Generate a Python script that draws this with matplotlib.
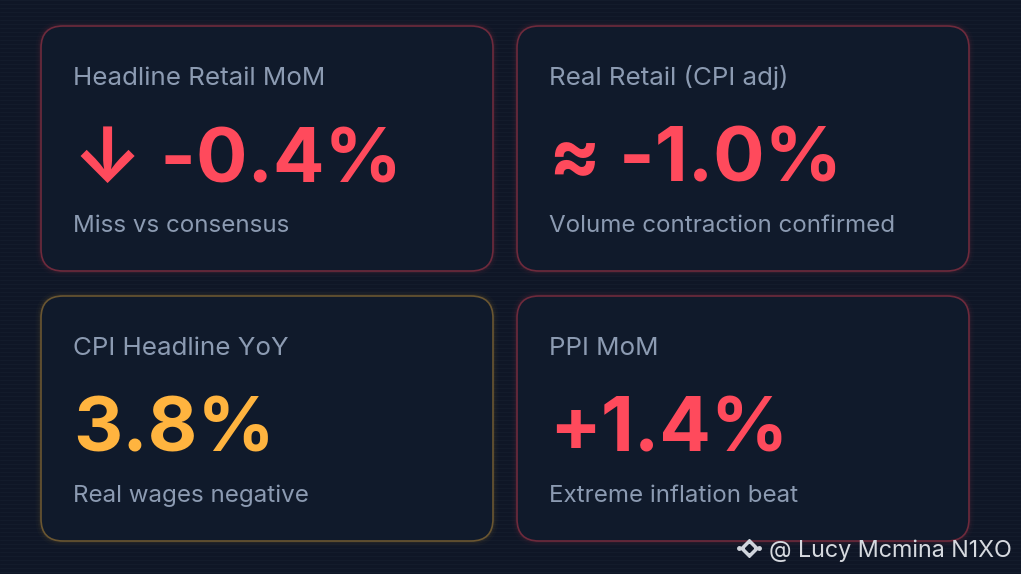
import matplotlib.pyplot as plt
from matplotlib.patches import FancyBboxPatch

# card content
titles = ["Headline Retail MoM", "Real Retail (CPI adj)", "CPI Headline YoY", "PPI MoM"]
values = ["↓ -0.4%", "≈ -1.0%", "3.8%", "+1.4%"]
notes = ["Miss vs consensus", "Volume contraction confirmed", "Real wages negative", "Extreme inflation beat"]
accent = ["#ff4a5c", "#ff4a5c", "#ffb43f", "#ff4a5c"]
edge = ["#6e2a3c", "#6e2a3c", "#6a5631", "#6e2a3c"]
watermark = "@ Lucy Mcmina N1XO"

W, H = 1021, 574
bg = "#0f1626"
card_bg = "#101a2b"
grey = "#8c9bb2"

plt.rcParams['font.family'] = ['Inter', 'DejaVu Sans']

fig = plt.figure(figsize=(W / 100, H / 100), dpi=100, facecolor=bg)
ax = fig.add_axes([0, 0, 1, 1])
ax.set_xlim(0, W)
ax.set_ylim(H, 0)
ax.axis('off')
ax.set_facecolor(bg)

# faint scanlines
for y in range(0, H, 4):
    ax.axhline(y, color="#141c2c", lw=0.6, zorder=0)

# card grid
lefts = [41, 517, 41, 517]
tops = [26, 26, 296, 296]
cw, ch = 452, 245

for i in range(4):
    x0, y0 = lefts[i], tops[i]
    # glow
    for lw, a in [(8, 0.05), (5, 0.08), (3, 0.12)]:
        ax.add_patch(FancyBboxPatch((x0, y0), cw, ch, boxstyle="round,pad=0,rounding_size=22",
                                    fc="none", ec=edge[i], lw=lw, alpha=a, zorder=1))
    ax.add_patch(FancyBboxPatch((x0, y0), cw, ch, boxstyle="round,pad=0,rounding_size=22",
                                fc=card_bg, ec=edge[i], lw=1.2, zorder=2))
    ax.text(x0 + 32, y0 + 59, titles[i], color=grey, fontsize=18.7,
            ha='left', va='baseline', zorder=3)
    ax.text(x0 + 32, y0 + 156, values[i], color=accent[i], fontsize=55,
            fontweight='bold', ha='left', va='baseline', zorder=3)
    ax.text(x0 + 32, y0 + 206, notes[i], color=grey, fontsize=17.4,
            ha='left', va='baseline', zorder=3)

# watermark with small diamond logo
ax.plot([749], [548], marker='D', ms=9, color="#d0d4dc", zorder=4)
ax.plot([749], [548], marker='D', ms=4, color=bg, zorder=5)
ax.plot([739, 759], [548, 548], ls='none', marker='o', ms=2.5, color="#d0d4dc", zorder=4)
ax.text(769, 557, watermark, color="#d6d9df", fontsize=16.8, ha='left', va='baseline', zorder=4)

fig.savefig("out.png", dpi=100, facecolor=bg)
